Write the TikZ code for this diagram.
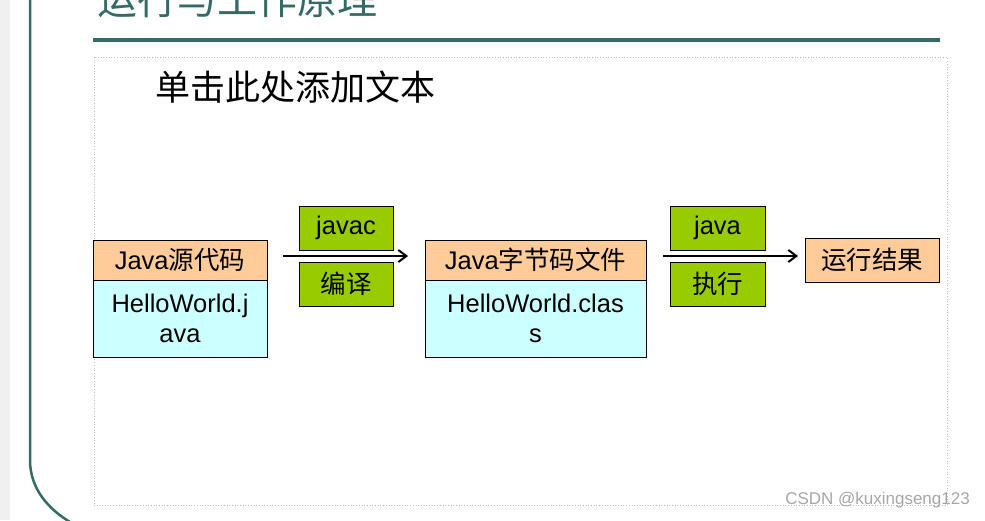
\documentclass[tikz,border=0pt]{standalone}
\usepackage{fontspec}
\usetikzlibrary{arrows.meta}
\setmainfont{Liberation Sans}
\newfontfamily\cjk{Noto Sans CJK SC}
\definecolor{teal1}{HTML}{336B66}
\definecolor{org}{HTML}{FFCC99}
\definecolor{cyn}{HTML}{CCFFFF}
\definecolor{grn}{HTML}{99CC00}
\begin{document}
\begin{tikzpicture}[x=1pt,y=-1pt,
  bx/.style={draw,line width=0.8pt,inner sep=0pt,font=\fontsize{25.5}{30}\selectfont,align=center},
  arr/.style={-{Straight Barb[length=8pt,width=12pt,line width=2pt]},line width=2.2pt}]
\useasboundingbox (0,0) rectangle (985,520);
\fill[gray!12] (0,0) rectangle (10,520);
\draw[teal1,line width=2.5pt] (30,0) -- (30,460) .. controls (30,490) and (50,510) .. (70,522);
\node[anchor=base west,text=teal1,font=\cjk\fontsize{40}{40}\selectfont,inner sep=0pt] (title) at (97,14) {运行与工作原理};
\draw[teal1,line width=3.5pt] (93,40) -- (940,40);
\draw[gray!50,dotted,line width=0.7pt] (94,57) rectangle (947,505);
\node[anchor=west,font=\cjk\fontsize{35}{35}\selectfont,inner sep=0pt] (t) at (155,87) {单击此处添加文本};
\node[bx,fill=org,minimum width=174pt,minimum height=40pt] (a1) at (180,260) {Java{\cjk 源代码}};
\node[bx,fill=cyn,minimum width=174pt,minimum height=77pt] (a2) at (180,318.5) {HelloWorld.j\\ava};
\node[bx,fill=grn,minimum width=94pt,minimum height=44pt] (c1) at (346,228) {javac};
\node[bx,fill=grn,minimum width=94pt,minimum height=44pt] (c2) at (346,284) {\cjk 编译};
\node[bx,fill=org,minimum width=221pt,minimum height=40pt] (b1) at (535.5,260) {Java{\cjk 字节码文件}};
\node[bx,fill=cyn,minimum width=221pt,minimum height=77pt] (b2) at (535.5,318.5) {HelloWorld.clas\\s};
\node[bx,fill=grn,minimum width=95pt,minimum height=44pt] (d1) at (717.5,228) {java};
\node[bx,fill=grn,minimum width=95pt,minimum height=44pt] (d2) at (717.5,284) {\cjk 执行};
\node[bx,fill=org,minimum width=134pt,minimum height=44pt] (r) at (872,260) {\cjk 运行结果};
\coordinate (p1) at (283,256); \coordinate (p2) at (408,256);
\coordinate (q1) at (663,256); \coordinate (q2) at (798,256);
\draw[arr] (p1) -- (p2);
\draw[arr] (q1) -- (q2);
\node[anchor=east,text=gray!70,font=\fontsize{17}{17}\selectfont,inner sep=0pt] (wm) at (970,500) {CSDN @kuxingseng123};
\end{tikzpicture}
\end{document}
